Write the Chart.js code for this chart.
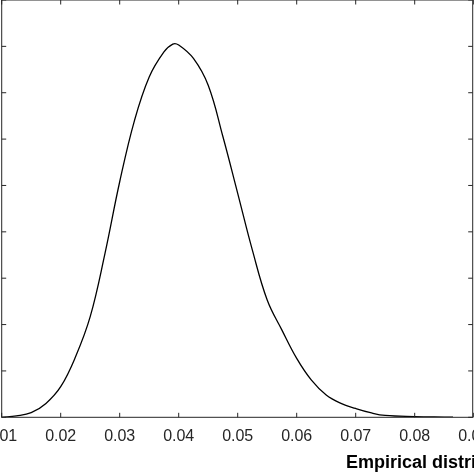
<!DOCTYPE html>
<html><head><meta charset="utf-8">
<script src="https://cdn.jsdelivr.net/npm/chart.js@4"></script>
<style>html,body{margin:0;padding:0;background:#fff;overflow:hidden}#wrap{width:474px;height:474px}</style>
</head><body><div id="wrap"><canvas id="c" width="474" height="474"></canvas></div>
<script>
const xValues = [0.010,0.0125,0.015,0.0175,0.020,0.0225,0.025,0.0275,0.030,0.0325,0.035,0.0375,0.039,0.040,0.0425,0.045,0.0475,0.050,0.0525,0.055,0.0575,0.060,0.0625,0.065,0.0675,0.070,0.0725,0.075,0.080,0.085,0.0865];
const densityValues = [0,0.03,0.1,0.3,0.66,1.3,2.17,3.53,5.08,6.4,7.34,7.88,8.05,8.03,7.74,7.16,6.05,4.83,3.6,2.53,1.88,1.27,0.8,0.48,0.3,0.19,0.1,0.04,0.015,0.005,0.003];
const xTicks = [0.01,0.02,0.03,0.04,0.05,0.06,0.07,0.08,0.09];
const xTickLabels = ['0.01','0.02','0.03','0.04','0.05','0.06','0.07','0.08','0.09'];
const yTicks = [0,1,2,3,4,5,6,7,8,9];
const xTitle = 'Empirical distribution';

const framePlugin = {
  id:'frame',
  afterDraw(chart){
    const {ctx, chartArea:a, scales:{x,y}} = chart;
    ctx.save();
    ctx.strokeStyle='#262626'; ctx.lineWidth=1;
    ctx.strokeRect(a.left, a.top, a.right-a.left, a.bottom-a.top);
    ctx.beginPath();
    xTicks.forEach(v=>{const px=x.getPixelForValue(v);
      ctx.moveTo(px,a.bottom);ctx.lineTo(px,a.bottom-4.5);
      ctx.moveTo(px,a.top);ctx.lineTo(px,a.top+4.5);});
    yTicks.forEach(v=>{const py=y.getPixelForValue(v);
      ctx.moveTo(a.left,py);ctx.lineTo(a.left+4.5,py);
      ctx.moveTo(a.right,py);ctx.lineTo(a.right-4.5,py);});
    ctx.stroke();
    ctx.fillStyle='#262626'; ctx.font='16px "Liberation Sans", Arial, sans-serif';
    ctx.textAlign='center'; ctx.textBaseline='middle';
    xTicks.forEach((v,i)=>ctx.fillText(xTickLabels[i], x.getPixelForValue(v), a.bottom+19.5));
    ctx.fillStyle='#000'; ctx.font='bold 18px "Liberation Sans", Arial, sans-serif';
    ctx.textAlign='left';
    ctx.fillText(xTitle, 346, 463);
    ctx.restore();
  }
};

new Chart(document.getElementById('c'), {
  type:'line',
  data:{datasets:[{data:xValues.map((v,i)=>({x:v,y:densityValues[i]})),
    borderColor:'#000', borderWidth:1.3, pointRadius:0, tension:0.4, fill:false}]},
  options:{
    responsive:false, animation:false, devicePixelRatio:1,
    layout:{padding:{left:1.7,right:1.3,top:0,bottom:56.7}},
    plugins:{legend:{display:false},tooltip:{enabled:false}},
    scales:{
      x:{type:'linear',min:0.01,max:0.01+471/5900,display:false},
      y:{min:0,max:9,display:false}
    }
  },
  plugins:[framePlugin]
});
</script></body></html>
